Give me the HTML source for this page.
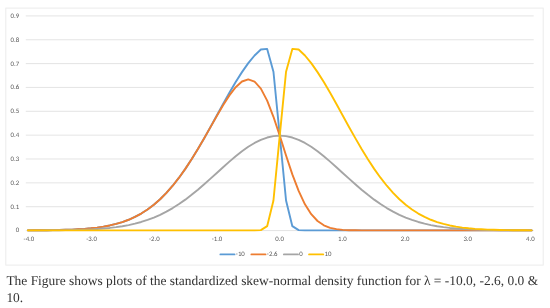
<!DOCTYPE html>
<html><head><meta charset="utf-8"><style>
html,body{margin:0;padding:0;background:#fff;}
body{width:550px;height:308px;position:relative;overflow:hidden;}
.wrap{position:absolute;left:0;top:0;width:550px;height:308px;}
svg text{font-family:"Carlito","Liberation Sans",sans-serif;font-size:6.8px;fill:#595959;text-rendering:geometricPrecision;}
.cap{position:absolute;left:6.4px;top:273.2px;width:538px;font-family:"Liberation Serif",serif;font-size:13.44px;line-height:16.7px;text-rendering:geometricPrecision;color:#333;}
</style></head><body><div class="wrap">
<svg width="550" height="308" viewBox="0 0 550 308" style="position:absolute;left:0;top:0">
<rect x="5.8" y="8.1" width="537.4" height="257.0" fill="#fff" stroke="#ECECEC" stroke-width="1"/>
<line x1="25.8" x2="533.7" y1="230.55" y2="230.55" stroke="#D9D9D9" stroke-width="0.7"/>
<line x1="25.8" x2="533.7" y1="206.70" y2="206.70" stroke="#D9D9D9" stroke-width="0.7"/>
<line x1="25.8" x2="533.7" y1="182.85" y2="182.85" stroke="#D9D9D9" stroke-width="0.7"/>
<line x1="25.8" x2="533.7" y1="159.00" y2="159.00" stroke="#D9D9D9" stroke-width="0.7"/>
<line x1="25.8" x2="533.7" y1="135.15" y2="135.15" stroke="#D9D9D9" stroke-width="0.7"/>
<line x1="25.8" x2="533.7" y1="111.30" y2="111.30" stroke="#D9D9D9" stroke-width="0.7"/>
<line x1="25.8" x2="533.7" y1="87.45" y2="87.45" stroke="#D9D9D9" stroke-width="0.7"/>
<line x1="25.8" x2="533.7" y1="63.60" y2="63.60" stroke="#D9D9D9" stroke-width="0.7"/>
<line x1="25.8" x2="533.7" y1="39.75" y2="39.75" stroke="#D9D9D9" stroke-width="0.7"/>
<line x1="25.8" x2="533.7" y1="15.90" y2="15.90" stroke="#D9D9D9" stroke-width="0.7"/>
<text x="19.2" y="232.45" text-anchor="end">0</text>
<text x="19.2" y="208.60" text-anchor="end">0.1</text>
<text x="19.2" y="184.75" text-anchor="end">0.2</text>
<text x="19.2" y="160.90" text-anchor="end">0.3</text>
<text x="19.2" y="137.05" text-anchor="end">0.4</text>
<text x="19.2" y="113.20" text-anchor="end">0.5</text>
<text x="19.2" y="89.35" text-anchor="end">0.6</text>
<text x="19.2" y="65.50" text-anchor="end">0.7</text>
<text x="19.2" y="41.65" text-anchor="end">0.8</text>
<text x="19.2" y="17.80" text-anchor="end">0.9</text>
<text x="28.90" y="241.30" text-anchor="middle">-4.0</text>
<text x="91.59" y="241.30" text-anchor="middle">-3.0</text>
<text x="154.28" y="241.30" text-anchor="middle">-2.0</text>
<text x="216.97" y="241.30" text-anchor="middle">-1.0</text>
<text x="279.66" y="241.30" text-anchor="middle">0.0</text>
<text x="342.35" y="241.30" text-anchor="middle">1.0</text>
<text x="405.04" y="241.30" text-anchor="middle">2.0</text>
<text x="467.73" y="241.30" text-anchor="middle">3.0</text>
<text x="530.42" y="241.30" text-anchor="middle">4.0</text>
<polyline points="27.90,230.34 34.20,230.31 40.49,230.26 46.79,230.20 53.08,230.11 59.38,229.99 65.68,229.81 71.97,229.58 78.27,229.27 84.57,228.85 90.86,228.29 97.16,227.57 103.46,226.64 109.75,225.45 116.05,223.95 122.34,222.07 128.64,219.76 134.94,216.94 141.23,213.55 147.53,209.51 153.83,204.75 160.12,199.23 166.42,192.90 172.71,185.73 179.01,177.71 185.31,168.88 191.60,159.28 197.90,149.00 204.20,138.16 210.49,126.92 216.79,115.46 223.08,104.01 229.38,92.80 235.68,82.08 241.97,72.12 248.27,63.17 254.57,55.48 260.86,49.49 267.16,48.88 273.45,71.76 279.75,135.65 286.05,200.49 292.34,226.17 298.64,230.16 304.94,230.39 311.23,230.40 317.53,230.40 323.82,230.40 330.12,230.40 336.42,230.40 342.71,230.40 349.01,230.40 355.31,230.40 361.60,230.40 367.90,230.40 374.19,230.40 380.49,230.40 386.79,230.40 393.08,230.40 399.38,230.40 405.68,230.40 411.97,230.40 418.27,230.40 424.56,230.40 430.86,230.40 437.16,230.40 443.45,230.40 449.75,230.40 456.05,230.40 462.34,230.40 468.64,230.40 474.93,230.40 481.23,230.40 487.53,230.40 493.82,230.40 500.12,230.40 506.42,230.40 512.71,230.40 519.01,230.40 525.30,230.40 531.60,230.40" fill="none" stroke="#5B9BD5" stroke-width="1.9" stroke-linejoin="round" stroke-linecap="round"/>
<polyline points="27.90,230.34 34.20,230.31 40.49,230.26 46.79,230.20 53.08,230.11 59.38,229.99 65.68,229.81 71.97,229.58 78.27,229.27 84.57,228.85 90.86,228.29 97.16,227.57 103.46,226.64 109.75,225.45 116.05,223.95 122.34,222.07 128.64,219.76 134.94,216.94 141.23,213.55 147.53,209.51 153.83,204.75 160.12,199.23 166.42,192.90 172.71,185.73 179.01,177.71 185.31,168.88 191.60,159.29 197.90,149.03 204.20,138.25 210.49,127.14 216.79,116.00 223.08,105.23 229.38,95.38 235.68,87.18 241.97,81.52 248.27,79.36 254.57,81.57 260.86,88.68 267.16,100.66 273.45,116.78 279.75,135.65 286.05,155.46 292.34,174.39 298.64,190.96 304.94,204.31 311.23,214.21 317.53,221.00 323.82,225.30 330.12,227.82 336.42,229.18 342.71,229.86 349.01,230.18 355.31,230.32 361.60,230.37 367.90,230.39 374.19,230.40 380.49,230.40 386.79,230.40 393.08,230.40 399.38,230.40 405.68,230.40 411.97,230.40 418.27,230.40 424.56,230.40 430.86,230.40 437.16,230.40 443.45,230.40 449.75,230.40 456.05,230.40 462.34,230.40 468.64,230.40 474.93,230.40 481.23,230.40 487.53,230.40 493.82,230.40 500.12,230.40 506.42,230.40 512.71,230.40 519.01,230.40 525.30,230.40 531.60,230.40" fill="none" stroke="#ED7D31" stroke-width="1.9" stroke-linejoin="round" stroke-linecap="round"/>
<polyline points="27.90,230.37 34.20,230.35 40.49,230.33 46.79,230.30 53.08,230.25 59.38,230.19 65.68,230.11 71.97,229.99 78.27,229.83 84.57,229.62 90.86,229.35 97.16,228.99 103.46,228.52 109.75,227.93 116.05,227.17 122.34,226.24 128.64,225.08 134.94,223.67 141.23,221.97 147.53,219.95 153.83,217.58 160.12,214.82 166.42,211.65 172.71,208.06 179.01,204.06 185.31,199.64 191.60,194.84 197.90,189.70 204.20,184.28 210.49,178.66 216.79,172.93 223.08,167.20 229.38,161.60 235.68,156.24 241.97,151.26 248.27,146.78 254.57,142.94 260.86,139.82 267.16,137.53 273.45,136.12 279.75,135.65 286.05,136.12 292.34,137.53 298.64,139.82 304.94,142.94 311.23,146.78 317.53,151.26 323.82,156.24 330.12,161.60 336.42,167.20 342.71,172.93 349.01,178.66 355.31,184.28 361.60,189.70 367.90,194.84 374.19,199.64 380.49,204.06 386.79,208.06 393.08,211.65 399.38,214.82 405.68,217.58 411.97,219.95 418.27,221.97 424.56,223.67 430.86,225.08 437.16,226.24 443.45,227.17 449.75,227.93 456.05,228.52 462.34,228.99 468.64,229.35 474.93,229.62 481.23,229.83 487.53,229.99 493.82,230.11 500.12,230.19 506.42,230.25 512.71,230.30 519.01,230.33 525.30,230.35 531.60,230.37" fill="none" stroke="#A5A5A5" stroke-width="1.9" stroke-linejoin="round" stroke-linecap="round"/>
<polyline points="27.90,230.40 34.20,230.40 40.49,230.40 46.79,230.40 53.08,230.40 59.38,230.40 65.68,230.40 71.97,230.40 78.27,230.40 84.57,230.40 90.86,230.40 97.16,230.40 103.46,230.40 109.75,230.40 116.05,230.40 122.34,230.40 128.64,230.40 134.94,230.40 141.23,230.40 147.53,230.40 153.83,230.40 160.12,230.40 166.42,230.40 172.71,230.40 179.01,230.40 185.31,230.40 191.60,230.40 197.90,230.40 204.20,230.40 210.49,230.40 216.79,230.40 223.08,230.40 229.38,230.40 235.68,230.40 241.97,230.40 248.27,230.40 254.57,230.39 260.86,230.16 267.16,226.17 273.45,200.49 279.75,135.65 286.05,71.76 292.34,48.88 298.64,49.49 304.94,55.48 311.23,63.17 317.53,72.12 323.82,82.08 330.12,92.80 336.42,104.01 342.71,115.46 349.01,126.92 355.31,138.16 361.60,149.00 367.90,159.28 374.19,168.88 380.49,177.71 386.79,185.73 393.08,192.90 399.38,199.23 405.68,204.75 411.97,209.51 418.27,213.55 424.56,216.94 430.86,219.76 437.16,222.07 443.45,223.95 449.75,225.45 456.05,226.64 462.34,227.57 468.64,228.29 474.93,228.85 481.23,229.27 487.53,229.58 493.82,229.81 500.12,229.99 506.42,230.11 512.71,230.20 519.01,230.26 525.30,230.31 531.60,230.34" fill="none" stroke="#FFC000" stroke-width="1.9" stroke-linejoin="round" stroke-linecap="round"/>
<line x1="220.4" x2="234.5" y1="254.4" y2="254.4" stroke="#5B9BD5" stroke-width="1.9" stroke-linecap="round"/>
<text x="235.8" y="256.4">-10</text>
<line x1="251.4" x2="265.5" y1="254.4" y2="254.4" stroke="#ED7D31" stroke-width="1.9" stroke-linecap="round"/>
<text x="266.8" y="256.4">-2.6</text>
<line x1="283.9" x2="298.0" y1="254.4" y2="254.4" stroke="#A5A5A5" stroke-width="1.9" stroke-linecap="round"/>
<text x="299.3" y="256.4">0</text>
<line x1="309.09999999999997" x2="323.2" y1="254.4" y2="254.4" stroke="#FFC000" stroke-width="1.9" stroke-linecap="round"/>
<text x="324.5" y="256.4">10</text>
</svg>
<div class="cap">The Figure shows plots of the standardized skew-normal density function for &lambda; = -10.0, -2.6, 0.0 &amp; 10.</div>
</div></body></html>
